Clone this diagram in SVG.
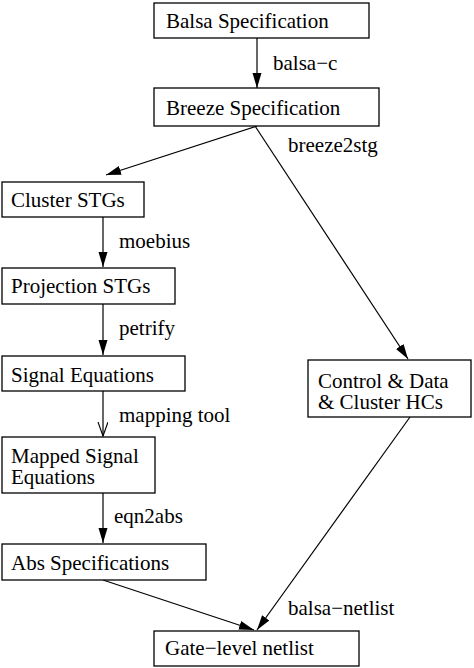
<svg xmlns="http://www.w3.org/2000/svg" width="474" height="668" viewBox="0 0 474 668">
<style>
.box{fill:#fff;stroke:#000;stroke-width:1.3}
.t{font-family:"Liberation Serif","Times New Roman",serif;font-size:21px;fill:#000}
.c{fill:none;stroke:#000;stroke-width:1.2}
</style>
<defs>
<marker id="ah" markerUnits="userSpaceOnUse" markerWidth="16" markerHeight="10" refX="15" refY="4.5" orient="auto">
<path d="M0,0 L15,4.5 L0,9 Z" fill="#000"/>
</marker>
<marker id="ao" markerUnits="userSpaceOnUse" markerWidth="16" markerHeight="12" refX="14" refY="5" orient="auto">
<path d="M0,0 L14,5 L0,10" fill="none" stroke="#000" stroke-width="1.1"/>
</marker>
</defs>
<rect width="474" height="668" fill="#fff"/>
<g id="connectors">
<line class="c" x1="257" y1="38" x2="257" y2="88" marker-end="url(#ah)"/>
<line class="c" x1="257" y1="126" x2="106" y2="175" marker-end="url(#ah)"/>
<line class="c" x1="255" y1="126" x2="408" y2="359" marker-end="url(#ah)"/>
<line class="c" x1="103" y1="217" x2="103" y2="267" marker-end="url(#ah)"/>
<line class="c" x1="103" y1="304" x2="103" y2="355" marker-end="url(#ah)"/>
<line class="c" x1="103" y1="391" x2="103" y2="436" marker-end="url(#ao)"/>
<line class="c" x1="103" y1="493" x2="103" y2="543" marker-end="url(#ah)"/>
<line class="c" x1="103" y1="580" x2="254" y2="630" marker-end="url(#ah)"/>
<line class="c" x1="410" y1="417" x2="257" y2="630" marker-end="url(#ah)"/>
<text class="t" x="273" y="70">balsa−c</text>
<text class="t" x="288" y="152">breeze2stg</text>
<text class="t" x="119" y="248">moebius</text>
<text class="t" x="119" y="335">petrify</text>
<text class="t" x="119" y="422">mapping tool</text>
<text class="t" x="114" y="523">eqn2abs</text>
<text class="t" x="288" y="615">balsa−netlist</text>
</g>
<g id="balsa-spec"><rect class="box" x="154" y="3" width="215" height="35"/><text class="t" x="166" y="28">Balsa Specification</text></g>
<g id="breeze-spec"><rect class="box" x="154" y="88" width="225" height="38"/><text class="t" x="166" y="115">Breeze Specification</text></g>
<g id="cluster-stgs"><rect class="box" x="2" y="182" width="142" height="35"/><text class="t" x="11" y="207">Cluster STGs</text></g>
<g id="projection-stgs"><rect class="box" x="2" y="268" width="173" height="36"/><text class="t" x="11" y="293">Projection STGs</text></g>
<g id="signal-equations"><rect class="box" x="2" y="356" width="183" height="35"/><text class="t" x="11" y="382">Signal Equations</text></g>
<g id="mapped-signal-equations"><rect class="box" x="2" y="437" width="153" height="56"/><text class="t" x="11" y="463">Mapped Signal</text><text class="t" x="11" y="484">Equations</text></g>
<g id="abs-specifications"><rect class="box" x="2" y="544" width="204" height="36"/><text class="t" x="11" y="570">Abs Specifications</text></g>
<g id="control-data-cluster"><rect class="box" x="308" y="360" width="163" height="57"/><text class="t" x="318" y="388">Control &amp; Data</text><text class="t" x="318" y="409">&amp; Cluster HCs</text></g>
<g id="gate-level-netlist"><rect class="box" x="154" y="631" width="205" height="35"/><text class="t" x="165" y="655">Gate−level netlist</text></g>
</svg>
